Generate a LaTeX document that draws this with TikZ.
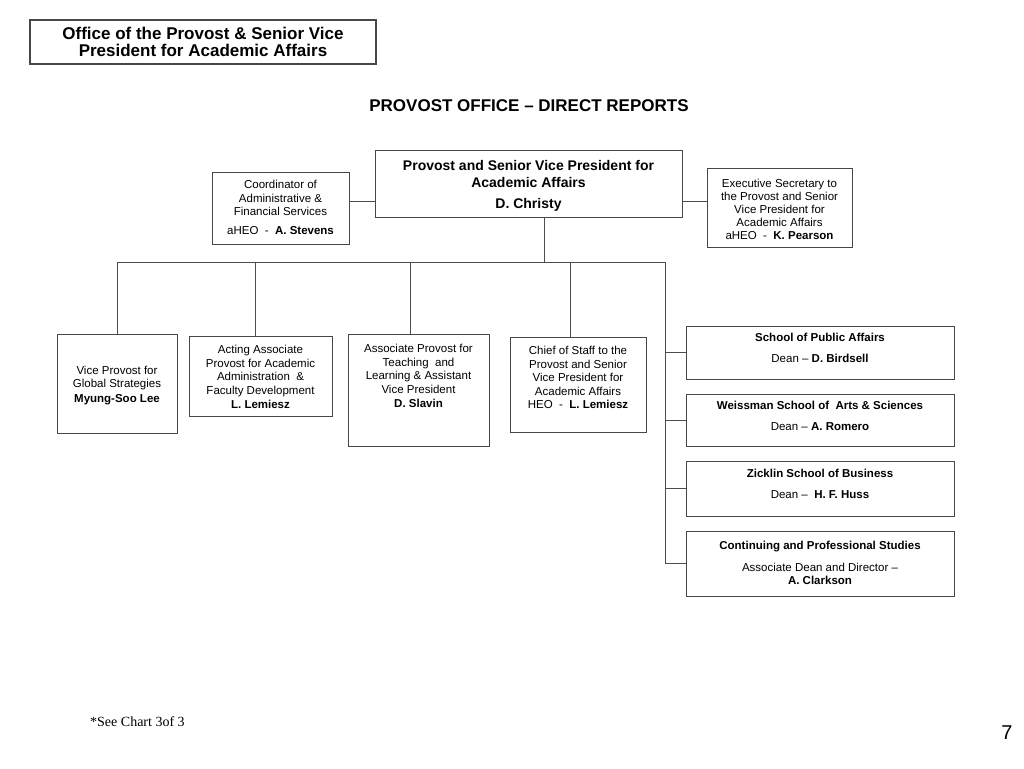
\documentclass[tikz,border=0pt]{standalone}
\usepackage{fontspec}
\setmainfont{Liberation Sans}
\newfontfamily\seriffont{Liberation Serif}
\begin{document}
\begin{tikzpicture}[x=1pt,y=-1pt,
  box/.style={draw=black!72, line width=0.9pt, inner sep=0pt, fill=white},
  txt/.style={align=center, inner sep=0pt, font=\fontsize{11.5}{13.6}\selectfont},
  head/.style={align=center, inner sep=0pt, font=\bfseries\fontsize{14}{17}\selectfont},
  link/.style={draw=black!70, line width=0.9pt}]
\useasboundingbox (0,0) rectangle (1024,768);
% title
\node[box, line width=1.3pt, minimum width=346pt, minimum height=44pt] (title) at (203,42) {};
\node[align=center, inner sep=0pt, font=\bfseries\fontsize{17}{17}\selectfont] (titletxt) at (203,42) {Office of the Provost \& Senior Vice\\President for Academic Affairs};
\node[inner sep=0pt, font=\bfseries\fontsize{17}{18}\selectfont] (heading) at (529,106) {PROVOST OFFICE -- DIRECT REPORTS};
% top row
\node[box, minimum width=307pt, minimum height=67pt] (prov) at (528.5,183.5) {};
\node[head] (provtxt) at (528.5,185.5) {Provost and Senior Vice President for\\Academic Affairs\\[4pt]D. Christy};
\node[box, minimum width=137pt, minimum height=72pt] (coord) at (280.5,208) {};
\node[txt] (coordtxt) at (280.5,207.5) {Coordinator of\\Administrative \&\\Financial Services\\[5pt]aHEO \ - \ \textbf{A. Stevens}};
\node[box, minimum width=145pt, minimum height=79pt] (exec) at (779.5,207.5) {};
\node[txt, font=\fontsize{11.5}{13}\selectfont] (exectxt) at (779.5,209) {Executive Secretary to\\the Provost and Senior\\Vice President for\\Academic Affairs\\aHEO \ - \ \textbf{K. Pearson}};
% second row
\node[box, minimum width=120pt, minimum height=99pt] (vp) at (117,383.5) {};
\node[txt] (vptxt) at (117,385.5) {Vice Provost for\\Global Strategies\\[1pt]\textbf{Myung-Soo Lee}};
\node[box, minimum width=143pt, minimum height=80pt] (acting) at (260.5,376) {};
\node[txt] (actingtxt) at (260.5,377) {Acting Associate\\Provost for Academic\\Administration \ \&\\Faculty Development\\[1pt]\textbf{L. Lemiesz}};
\node[box, minimum width=141pt, minimum height=112pt] (assoc) at (418.5,390) {};
\node[txt] (assoctxt) at (418.5,376) {Associate Provost for\\Teaching \ and\\Learning \& Assistant\\Vice President\\[1pt]\textbf{D. Slavin}};
\node[box, minimum width=136pt, minimum height=95pt] (chief) at (578,384.5) {};
\node[txt] (chieftxt) at (578,377.5) {Chief of Staff to the\\Provost and Senior\\Vice President for\\Academic Affairs\\HEO \ - \ \textbf{L. Lemiesz}};
% schools
\node[box, minimum width=268pt, minimum height=53pt] (spa) at (820,352.5) {};
\node[txt, font=\fontsize{11.5}{21}\selectfont] (spatxt) at (820,348) {\textbf{School of Public Affairs}\\Dean -- \textbf{D. Birdsell}};
\node[box, minimum width=268pt, minimum height=52pt] (weis) at (820,420) {};
\node[txt, font=\fontsize{11.5}{21}\selectfont] (weistxt) at (820,416) {\textbf{Weissman School of \ Arts \& Sciences}\\Dean -- \textbf{A. Romero}};
\node[box, minimum width=268pt, minimum height=55pt] (zick) at (820,488.5) {};
\node[txt, font=\fontsize{11.5}{21}\selectfont] (zicktxt) at (820,484) {\textbf{Zicklin School of Business}\\Dean -- \ \textbf{H. F. Huss}};
\node[box, minimum width=268pt, minimum height=65pt] (cont) at (820,563.5) {};
\node[txt] (conttxt) at (820,563) {\textbf{Continuing and Professional Studies}\\[8pt]Associate Dean and Director --\\\textbf{A. Clarkson}};
% connectors
\coordinate (lev) at (0,201);
\draw[link] (coord.east |- lev) -- (prov.west |- lev);
\draw[link] (prov.east |- lev) -- (exec.west |- lev);
\coordinate (trunk) at (544,262);
\coordinate (bA) at (117,262);
\coordinate (bB) at (255,262);
\coordinate (bC) at (410,262);
\coordinate (bD) at (570,262);
\coordinate (bE) at (665,262);
\draw[link] (prov.south -| trunk) -- (trunk);
\draw[link] (bA) -- (bE);
\draw[link] (bA) -- (bA |- vp.north);
\draw[link] (bB) -- (bB |- acting.north);
\draw[link] (bC) -- (bC |- assoc.north);
\draw[link] (bD) -- (bD |- chief.north);
\draw[link] (bE) -- (bE |- cont.west);
\draw[link] (bE |- spa.west) -- (spa.west);
\draw[link] (bE |- weis.west) -- (weis.west);
\draw[link] (bE |- zick.west) -- (zick.west);
\draw[link] (bE |- cont.west) -- (cont.west);
% footer
\node[anchor=west, inner sep=0pt, font=\seriffont\fontsize{14}{16}\selectfont] (note) at (90,722) {*See Chart 3of 3};
\node[inner sep=0pt, font=\fontsize{20}{22}\selectfont] (page) at (1007,733) {7};
\end{tikzpicture}
\end{document}
